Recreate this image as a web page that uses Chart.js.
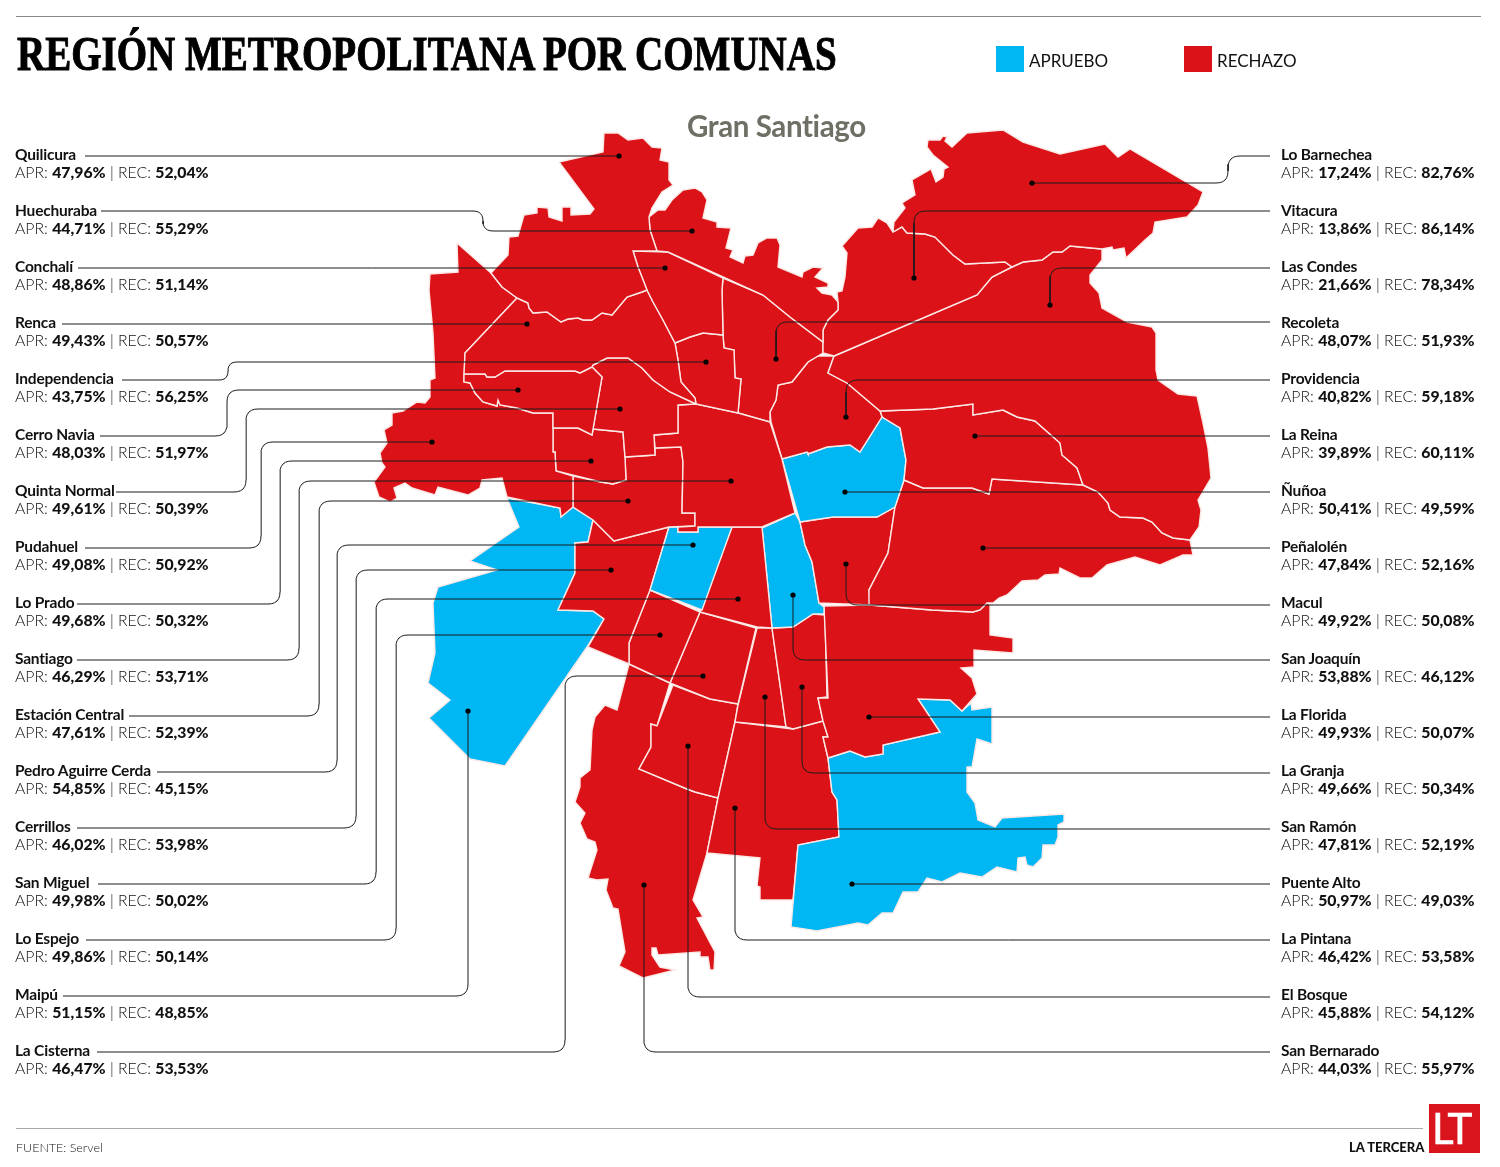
<!DOCTYPE html>
<html>
<head>
<meta charset="utf-8">
<script src="https://cdn.jsdelivr.net/npm/chart.js@4"></script>
<style>
body { margin: 0; background: #fff; }
#wrap { position: relative; width: 1500px; height: 1167px; overflow: hidden; font-family: Lato, sans-serif; color: #111; }
#wrap canvas { position: absolute; left: 0; top: 0; }
.txt { position: absolute; white-space: nowrap; }
.lab { line-height: 18px; }
.lab .n { font-size: 15.5px; font-weight: 700; letter-spacing: -0.2px; }
.lab .v { font-size: 15.8px; font-weight: 300; }
.lab b { font-weight: 900; }
</style>
</head>
<body>
<div id="wrap"><canvas id="map" width="1500" height="1167"></canvas></div>
<script>
let comunas = ['Quilicura','Huechuraba','Conchalí','Renca','Independencia','Cerro Navia','Quinta Normal','Pudahuel','Lo Prado','Santiago','Estación Central','Pedro Aguirre Cerda','Cerrillos','San Miguel','Lo Espejo','Maipú','La Cisterna',
    'Lo Barnechea','Vitacura','Las Condes','Recoleta','Providencia','La Reina','Ñuñoa','Peñalolén','Macul','San Joaquín','La Florida','La Granja','San Ramón','Puente Alto','La Pintana','El Bosque','San Bernarado'];
let apruebo = [47.96,44.71,48.86,49.43,43.75,48.03,49.61,49.08,49.68,46.29,47.61,54.85,46.02,49.98,49.86,51.15,46.47,
    17.24,13.86,21.66,48.07,40.82,39.89,50.41,47.84,49.92,53.88,49.93,49.66,47.81,50.97,46.42,45.88,44.03];
let rechazo = [52.04,55.29,51.14,50.57,56.25,51.97,50.39,50.92,50.32,53.71,52.39,45.15,53.98,50.02,50.14,48.85,53.53,
    82.76,86.14,78.34,51.93,59.18,60.11,49.59,52.16,50.08,46.12,50.07,50.34,52.19,49.03,53.58,54.12,55.97];

// comuna outlines, same order as comunas
let outlines = [
    [[559,162],[603,152],[604,133],[618,133],[628,140],[643,138],[652,147],[662,148],[660,160],[669,162],[669,180],[673,185],[662,192],[652,208],[649,217],[650,230],[657,251],[633,251],[638,267],[647,290],[642,292],[627,297],[612,315],[602,313],[592,320],[583,320],[578,318],[568,319],[561,322],[547,312],[533,313],[529,308],[528,303],[517,298],[502,287],[491,273],[508,255],[509,237],[518,236],[524,215],[537,213],[537,207],[548,208],[549,217],[562,221],[562,207],[571,207],[571,215],[590,214],[594,209]],
    [[649,217],[658,210],[665,210],[672,200],[683,190],[695,188],[702,192],[707,200],[703,218],[717,222],[717,227],[731,228],[726,248],[733,250],[730,257],[743,263],[745,256],[753,255],[758,243],[767,238],[777,238],[780,245],[778,267],[802,277],[803,272],[813,267],[823,268],[815,277],[828,283],[828,287],[817,288],[822,293],[832,295],[838,302],[838,310],[828,320],[823,330],[823,342],[790,317],[763,295],[668,252],[657,251],[650,230]],
    [[633,251],[668,252],[723,278],[722,290],[723,335],[703,333],[690,337],[675,343],[663,320],[653,302],[647,290],[638,267]],
    [[517,298],[528,303],[529,308],[533,313],[547,312],[561,322],[568,319],[578,318],[583,320],[592,320],[602,313],[612,315],[627,297],[642,292],[647,290],[653,302],[663,320],[675,343],[678,360],[681,382],[695,398],[696,404],[670,392],[653,380],[642,368],[628,358],[607,358],[593,365],[592,367],[580,373],[575,371],[505,371],[495,377],[487,377],[485,374],[464,374],[465,353]],
    [[675,343],[690,337],[703,333],[723,335],[724,348],[734,350],[735,378],[741,379],[738,413],[696,404],[695,398],[681,382],[678,360]],
    [[464,374],[485,374],[487,377],[495,377],[505,371],[575,371],[580,373],[592,367],[602,377],[592,435],[578,428],[553,428],[553,413],[533,413],[517,408],[500,405],[498,400],[497,406],[483,402],[475,393],[470,383],[464,382]],
    [[592,367],[593,365],[607,358],[628,358],[642,368],[653,380],[670,392],[696,404],[678,405],[678,433],[654,435],[655,455],[625,457],[623,432],[593,429],[592,435],[602,377]],
    [[457,243],[458,272],[430,274],[429,290],[433,333],[435,378],[430,380],[430,397],[425,403],[417,402],[403,411],[392,413],[392,425],[384,430],[387,443],[380,453],[382,463],[385,467],[374,482],[379,497],[390,502],[397,498],[394,488],[405,483],[412,488],[435,495],[438,487],[468,495],[480,488],[482,480],[502,478],[507,497],[560,508],[561,517],[573,507],[573,476],[556,471],[555,452],[553,452],[553,413],[533,413],[517,408],[500,405],[498,400],[497,406],[483,402],[475,393],[470,383],[464,382],[465,353],[517,298],[502,287],[491,273]],
    [[553,428],[578,428],[592,435],[593,429],[623,432],[625,457],[626,480],[613,484],[601,482],[556,471],[555,452],[553,452]],
    [[678,405],[696,404],[738,413],[770,422],[782,459],[795,513],[762,527],[698,527],[698,532],[678,532],[678,527],[695,526],[695,513],[682,513],[683,462],[681,447],[655,448],[654,435],[678,433]],
    [[573,476],[601,482],[613,484],[626,480],[625,457],[655,455],[655,448],[681,447],[683,462],[682,513],[695,513],[695,526],[669,527],[614,541],[593,520],[573,507]],
    [[669,527],[678,527],[678,532],[698,532],[698,527],[732,527],[702,610],[650,590]],
    [[593,520],[614,541],[669,527],[650,590],[629,643],[629,664],[588,647],[604,619],[593,611],[558,610],[575,573],[575,543],[588,542]],
    [[732,527],[762,527],[772,628],[757,627],[700,612]],
    [[650,590],[700,612],[670,683],[629,664],[629,643]],
    [[507,498],[560,508],[561,517],[573,507],[593,520],[588,542],[575,543],[575,573],[558,610],[593,611],[604,619],[587,647],[505,766],[470,759],[429,718],[450,700],[428,683],[435,653],[433,603],[438,587],[497,570],[470,561],[519,527]],
    [[700,612],[756,628],[738,704],[710,699],[670,683]],
    [[893,232],[894,222],[905,208],[902,203],[915,195],[912,180],[931,169],[936,182],[943,177],[944,169],[948,167],[933,155],[927,147],[928,140],[940,140],[943,136],[947,137],[945,141],[952,147],[967,133],[1003,130],[1023,142],[1060,154],[1105,144],[1118,157],[1130,149],[1203,192],[1198,205],[1187,217],[1155,222],[1153,233],[1145,240],[1126,258],[1124,248],[1113,250],[1112,247],[1102,249],[1070,246],[1062,252],[1053,252],[1042,260],[1023,262],[1012,267],[1005,262],[965,264],[953,255],[935,237],[925,234],[907,233],[902,227]],
    [[834,356],[977,295],[992,277],[1012,267],[1005,262],[965,264],[953,255],[935,237],[925,234],[907,233],[902,227],[893,232],[887,223],[878,218],[872,227],[858,228],[842,246],[847,253],[845,277],[842,291],[837,292],[838,302],[838,310],[828,320],[823,330],[823,353]],
    [[834,356],[977,295],[992,277],[1012,267],[1023,262],[1042,260],[1053,252],[1062,252],[1070,246],[1102,249],[1102,260],[1090,275],[1090,283],[1099,293],[1102,308],[1127,322],[1152,327],[1156,333],[1156,370],[1158,380],[1178,394],[1197,396],[1203,423],[1208,448],[1211,478],[1198,500],[1201,510],[1199,527],[1190,540],[1173,538],[1162,533],[1152,522],[1143,518],[1120,517],[1110,510],[1108,503],[1098,492],[1083,485],[1077,468],[1062,455],[1060,443],[1035,421],[1017,417],[1003,410],[973,415],[973,404],[933,409],[880,411],[847,383],[828,373]],
    [[723,278],[763,295],[790,317],[823,342],[823,353],[818,356],[808,362],[792,382],[778,385],[776,400],[770,412],[770,422],[738,413],[741,379],[735,378],[734,350],[724,348],[723,335],[722,290]],
    [[834,356],[818,356],[808,362],[792,382],[778,385],[776,400],[770,412],[771,422],[782,459],[807,452],[808,454],[827,447],[850,445],[860,452],[882,417],[880,411],[847,383],[828,373]],
    [[880,411],[933,409],[973,404],[973,415],[1003,410],[1017,417],[1035,421],[1060,443],[1062,455],[1077,468],[1083,485],[992,479],[989,494],[972,488],[923,488],[904,480],[906,460],[900,428],[882,417]],
    [[782,459],[807,452],[808,454],[827,447],[850,445],[860,452],[882,417],[900,428],[906,460],[904,480],[895,507],[877,517],[833,517],[800,522]],
    [[904,480],[923,488],[972,488],[989,494],[992,479],[1083,485],[1098,492],[1108,503],[1110,510],[1120,517],[1143,518],[1152,522],[1162,533],[1173,538],[1190,540],[1193,555],[1183,555],[1160,565],[1135,557],[1107,565],[1092,578],[1080,578],[1060,568],[1059,574],[1045,575],[1038,580],[1022,581],[1007,595],[999,598],[993,603],[987,603],[980,610],[973,612],[932,610],[870,605],[869,590],[888,553],[895,507]],
    [[800,522],[833,517],[877,517],[895,507],[888,553],[869,590],[870,605],[819,603],[812,562],[805,545]],
    [[762,528],[795,513],[800,522],[805,545],[812,562],[819,603],[824,607],[824,614],[813,614],[793,627],[772,628]],
    [[824,606],[870,605],[932,610],[973,612],[980,610],[987,603],[990,605],[990,635],[1013,638],[1013,653],[974,650],[974,667],[961,668],[972,678],[977,694],[962,711],[950,700],[918,699],[940,732],[883,745],[883,754],[865,757],[850,751],[828,758],[823,737],[828,737],[823,721],[818,698],[828,698]],
    [[772,628],[793,627],[813,614],[825,615],[827,697],[818,698],[823,721],[793,729],[786,727]],
    [[757,628],[772,628],[786,727],[735,722],[738,705]],
    [[918,699],[950,700],[962,711],[971,703],[972,710],[992,707],[992,744],[977,739],[972,767],[967,767],[967,792],[975,803],[978,820],[995,827],[1002,818],[1064,814],[1064,822],[1058,825],[1058,837],[1055,845],[1043,845],[1042,858],[1033,867],[1027,865],[1025,857],[1018,858],[1017,872],[997,867],[982,877],[960,873],[942,882],[927,878],[918,892],[903,892],[893,913],[882,913],[868,925],[858,923],[817,931],[791,927],[798,845],[839,837],[837,800],[832,792],[828,758],[850,751],[865,757],[883,754],[883,745],[940,732]],
    [[735,722],[793,729],[823,721],[828,737],[823,737],[828,758],[832,792],[837,800],[839,837],[798,845],[793,900],[760,900],[760,887],[757,886],[760,858],[707,853],[718,798]],
    [[673,685],[710,699],[738,704],[735,722],[718,798],[695,792],[687,789],[639,769],[651,747],[651,724],[657,726]],
    [[629,664],[670,683],[657,726],[651,724],[651,747],[639,769],[687,789],[695,792],[718,798],[707,853],[693,900],[703,917],[697,918],[715,952],[714,970],[710,970],[708,957],[700,957],[700,952],[658,955],[656,948],[652,948],[652,955],[660,967],[675,970],[643,978],[619,966],[625,952],[618,909],[613,908],[606,890],[608,879],[597,880],[588,878],[597,850],[595,842],[587,839],[580,823],[585,813],[575,802],[580,787],[580,778],[590,770],[592,730],[595,717],[605,705],[617,710]]
];

// leader routes: from the label to the dot inside the comuna
let leaders = [
    [[85,156],[619,156]],
    [[101,211],[483,211],[483,231],[692,231]],
    [[78,268],[665,268]],
    [[62,324],[527,324]],
    [[122,380],[228,380],[228,362],[706,362]],
    [[100,436],[227,436],[227,390],[518,390]],
    [[116,492],[246,492],[246,409],[620,409]],
    [[85,548],[261,548],[261,442],[432,442]],
    [[77,604],[280,604],[280,461],[591,461]],
    [[77,660],[299,660],[299,481],[731,481]],
    [[129,716],[319,716],[319,501],[628,501]],
    [[157,772],[337,772],[337,545],[693,545]],
    [[77,828],[356,828],[356,570],[611,570]],
    [[98,884],[376,884],[376,599],[738,599]],
    [[86,940],[396,940],[396,635],[660,635]],
    [[63,996],[468,996],[468,711]],
    [[97,1052],[565,1052],[565,676],[703,676]],
    [[1270,156],[1228,156],[1228,183],[1032,183]],
    [[1270,211],[914,211],[914,278]],
    [[1270,268],[1050,268],[1050,305]],
    [[1270,322],[776,322],[776,359]],
    [[1270,380],[846,380],[846,417]],
    [[1270,436],[975,436]],
    [[1270,492],[845,492]],
    [[1270,548],[983,548]],
    [[1270,605],[846,605],[846,564]],
    [[1270,660],[793,660],[793,595]],
    [[1270,717],[869,717]],
    [[1270,773],[802,773],[802,687]],
    [[1270,829],[765,829],[765,697]],
    [[1270,884],[852,884]],
    [[1270,940],[735,940],[735,808]],
    [[1270,997],[688,997],[688,746]],
    [[1270,1052],[644,1052],[644,885]]
];

let rojo = '#DB1319';
let celeste = '#00B6F3';

function toPoints(path) {
    return path.map((p) => ({ x: p[0], y: p[1] }));
}

// round the bends of a leader
function rounded(path) {
    let out = [path[0]];
    for (let i = 1; i < path.length - 1; i++) {
        let a = path[i - 1], b = path[i], c = path[i + 1];
        let d1 = Math.hypot(a[0] - b[0], a[1] - b[1]);
        let d2 = Math.hypot(c[0] - b[0], c[1] - b[1]);
        let r = Math.min(12, d1 / 2, d2 / 2);
        for (let k = 0; k <= 6; k++) {
            let t = k / 6;
            let p0 = [b[0] + (a[0] - b[0]) * r / d1, b[1] + (a[1] - b[1]) * r / d1];
            let p2 = [b[0] + (c[0] - b[0]) * r / d2, b[1] + (c[1] - b[1]) * r / d2];
            out.push([
                (1 - t) * (1 - t) * p0[0] + 2 * t * (1 - t) * b[0] + t * t * p2[0],
                (1 - t) * (1 - t) * p0[1] + 2 * t * (1 - t) * b[1] + t * t * p2[1]
            ]);
        }
    }
    out.push(path[path.length - 1]);
    return out;
}

let datasets = [];
comunas.map((name, i) => {
    datasets.push({
        label: name,
        data: toPoints(outlines[i].concat([outlines[i][0]])),
        showLine: true,
        fill: 'shape',
        backgroundColor: apruebo[i] > rechazo[i] ? celeste : rojo,
        borderColor: '#fbe9e6',
        borderWidth: 1.4,
        pointRadius: 0,
        tension: 0,
        order: 3
    });
    datasets.push({
        label: name + ' guia',
        data: toPoints(rounded(leaders[i])),
        showLine: true,
        fill: false,
        borderColor: '#1a1a1a',
        borderWidth: 1,
        pointRadius: 0,
        tension: 0,
        order: 2
    });
});
datasets.push({
    label: 'puntos',
    data: toPoints(leaders.map((l) => l[l.length - 1])),
    showLine: false,
    pointRadius: 2.6,
    pointBackgroundColor: '#000',
    pointBorderWidth: 0,
    order: 1
});

new Chart(document.getElementById('map').getContext('2d'), {
    type: 'scatter',
    data: { datasets: datasets },
    options: {
        responsive: false,
        animation: false,
        events: [],
        layout: { padding: 0, autoPadding: false },
        plugins: { legend: { display: false }, tooltip: { enabled: false } },
        scales: {
            x: { display: false, min: 0, max: 1500 },
            y: { display: false, min: 0, max: 1167, reverse: true }
        }
    }
});

// texts
let wrap = document.getElementById('wrap');
function addText(str, left, top, css) {
    let el = document.createElement('div');
    el.className = 'txt';
    el.style.cssText = 'left:' + left + 'px;top:' + top + 'px;' + css;
    el.textContent = str;
    wrap.appendChild(el);
    return el;
}
function addBox(left, top, w, h, color) {
    let el = document.createElement('div');
    el.style.cssText = 'position:absolute;left:' + left + 'px;top:' + top + 'px;width:' + w + 'px;height:' + h + 'px;background:' + color;
    wrap.appendChild(el);
}
function pct(v) {
    return v.toFixed(2).replace('.', ',') + '%';
}

comunas.map((name, i) => {
    let right = i >= 17;
    let row = right ? i - 17 : i;
    let el = document.createElement('div');
    el.className = 'txt lab';
    el.style.left = (right ? 1281 : 15) + 'px';
    el.style.top = (145 + 56 * row) + 'px';
    el.innerHTML = '<div class="n">' + name + '</div><div class="v">APR: <b>' + pct(apruebo[i]) + '</b> | REC: <b>' + pct(rechazo[i]) + '</b></div>';
    wrap.appendChild(el);
});

addBox(16, 16, 1465, 1, '#888');
addBox(16, 1128, 1407, 1, '#aaa');

let title = addText('REGIÓN METROPOLITANA POR COMUNAS', 17, 25, 'font-family:"Liberation Serif",serif;font-weight:700;font-size:48px;line-height:58px;color:#000;-webkit-text-stroke:1px #000;transform-origin:0 0;');
title.style.transform = 'scaleX(' + (820 / title.offsetWidth) + ')';

addBox(996, 46, 28, 26, celeste);
addText('APRUEBO', 1029, 51, 'font-size:17px;font-weight:400;line-height:20px;');
addBox(1184, 46, 28, 26, rojo);
addText('RECHAZO', 1217, 51, 'font-size:17px;font-weight:400;line-height:20px;');

addText('Gran Santiago', 687, 109, 'font-size:29.5px;font-weight:700;line-height:34px;color:#6f6f66;letter-spacing:-0.4px;');

addText('FUENTE: Servel', 16, 1140, 'font-size:12.5px;font-weight:300;line-height:16px;');
addText('LA TERCERA', 1349, 1139, 'font-size:13px;font-weight:900;line-height:16px;');
addBox(1429, 1104, 51, 49, '#D9141C');
addText('LT', 1432, 1103, 'font-size:42px;font-weight:400;line-height:50px;color:#fff;letter-spacing:-2px;-webkit-text-stroke:0.6px #fff;');
</script>
</body>
</html>
